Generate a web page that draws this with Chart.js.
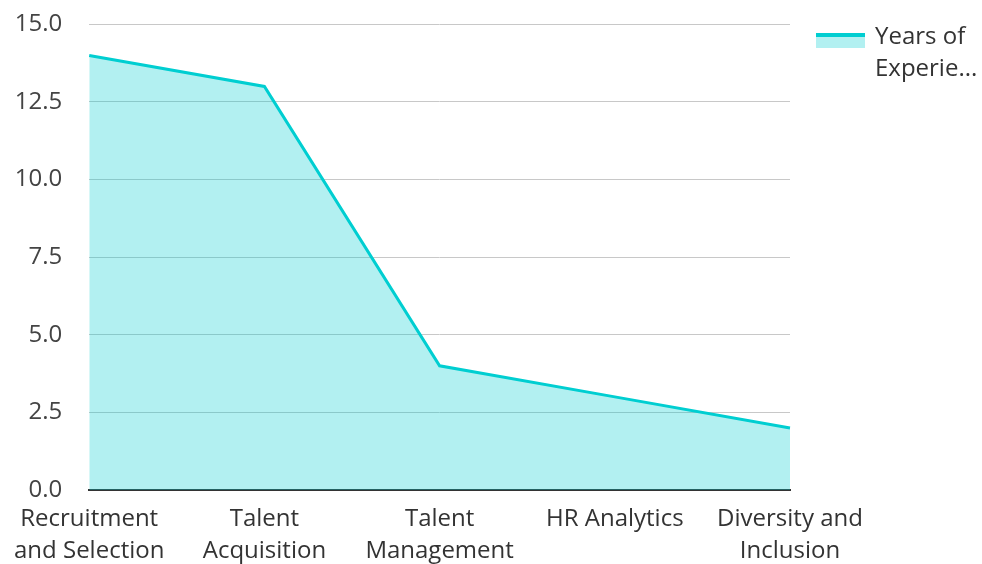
<!DOCTYPE html>
<html>
<head>
<meta charset="utf-8">
<script src="https://cdn.jsdelivr.net/npm/chart.js@4.4.1/dist/chart.umd.min.js"></script>
<style>
  html, body { margin: 0; padding: 0; background: #fff; }
  #wrap { position: relative; width: 982px; height: 564px; overflow: hidden; }
  #wrap canvas { position: absolute; left: 0; top: -17px; }
  .legend { position: absolute; left: 816px; top: 19px; font-family: 'Open Sans', 'Noto Sans', sans-serif; font-size: 24px; color: #333; line-height: 32px; }
  .legend .box { position: absolute; left: 0; top: 14px; width: 49px; height: 11px; background: rgba(0,206,209,0.3); border-top: 4px solid #00ced1; }
  .legend .txt { position: absolute; left: 59px; top: 0; width: 120px; }
</style>
</head>
<body>
<div id="wrap">
  <canvas id="chart" width="982" height="581"></canvas>
  <div class="legend"><div class="box"></div><div class="txt" id="legend-txt"></div></div>
</div>
<script>
// data
var kategori = [
  ['Recruitment', 'and Selection'],
  ['Talent', 'Acquisition'],
  ['Talent', 'Management'],
  'HR Analytics',
  ['Diversity and', 'Inclusion']
];
var tahunPengalaman = [14, 13, 4, 3, 2];
var namaSeri = 'Years of Experie...';

document.getElementById('legend-txt').innerHTML = 'Years of<br>Experie...';

var warnaGaris = '#00ced1';
var warnaIsi   = 'rgba(0, 206, 209, 0.3)';
var hurufTick  = { family: "'Open Sans', 'Noto Sans', sans-serif", size: 24 };

new Chart(document.getElementById('chart'), {
  type: 'line',
  data: {
    labels: kategori,
    datasets: [
      {
        label: namaSeri,
        data: tahunPengalaman,
        borderColor: warnaGaris,
        backgroundColor: warnaIsi,
        borderWidth: 3,
        fill: 'origin',
        tension: 0,
        pointRadius: 0,
      },
    ],
  },
  options: {
    responsive: false,
    animation: false,
    layout: { padding: { top: 8, right: 192, left: 0, bottom: 0 } },
    plugins: {
      legend: { display: false },
      tooltip: { enabled: false },
    },
    scales: {
      y: {
        min: 0, max: 15,
        afterFit: function(s) { s.width = 89; },
        border: { display: false },
        grid: { color: '#c8c8c8', lineWidth: 1, drawTicks: false },
        ticks: {
          stepSize: 2.5,
          padding: 27,
          color: '#444',
          font: hurufTick,
          callback: function(v) { return v.toFixed(1); },
        },
      },
      x: {
        afterFit: function(s) { s.height = 74; },
        border: { display: true, color: '#333', width: 2 },
        grid: { display: false, drawTicks: false },
        ticks: {
          padding: 14,
          color: '#333',
          font: { family: hurufTick.family, size: 24, lineHeight: 1.3 },
          maxRotation: 0,
          autoSkip: false,
        },
      },
    },
  },
});
</script>
</body>
</html>
